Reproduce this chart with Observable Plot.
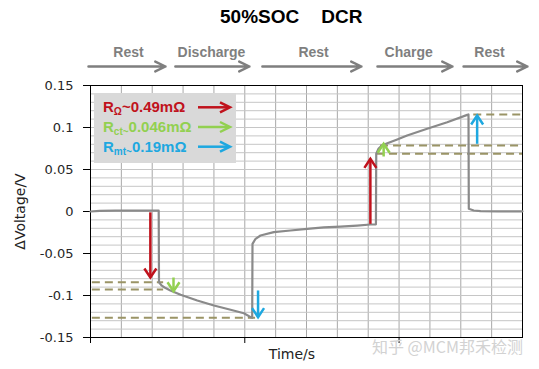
<!DOCTYPE html>
<html><head><meta charset="utf-8">
<script src="https://cdn.jsdelivr.net/npm/d3@7"></script>
<script src="https://cdn.jsdelivr.net/npm/@observablehq/plot@0.6"></script>
<style>
body{margin:0;background:#fff;}
#wrap{position:relative;width:539px;height:369px;overflow:hidden;font-family:"Liberation Sans",Arial,sans-serif;}
#chart{position:absolute;left:0;top:0;}
#title{position:absolute;left:220px;top:7px;font-weight:bold;font-size:19px;line-height:19px;color:#000;white-space:pre;}
#legend{position:absolute;left:94px;top:93px;width:142px;height:70px;background:#d9d9d9;}
.row{position:absolute;left:9px;font-weight:bold;font-size:15px;line-height:15px;white-space:pre;}
.sub{font-size:10px;position:relative;top:3px;}
#legend svg{position:absolute;left:0;top:0;}
#wm{position:absolute;left:372px;top:338px;font-family:"Noto Sans CJK SC",sans-serif;font-size:16px;line-height:16px;color:#d2d2d2;white-space:pre;}
</style></head>
<body><div id="wrap"><div id="chart"></div>
<div id="title">50%SOC<span style="margin-left:22px">DCR</span></div>
<div id="legend"></div>
<div id="wm">知乎 @MCM邦禾检测</div>
</div>
<script>
// Voltage curve
const timeS = [0, 0.3, 0.8, 2.21, 2.22, 2.30, 2.40, 2.59, 2.92, 3.46, 4.00, 4.54, 4.97, 5.19, 5.24, 5.25, 5.35, 5.51, 5.94, 6.48, 7.02, 7.56, 8.10, 8.64, 9.07, 9.25, 9.26, 9.33, 9.44, 9.62, 9.94, 10.26, 10.91, 11.56, 12.21, 12.25, 12.26, 12.42, 12.64, 13.2, 14];
const deltaV = [0, 0.0008, 0.001, 0.001, -0.0842, -0.0880, -0.0905, -0.0940, -0.0992, -0.1060, -0.1119, -0.1170, -0.1211, -0.1258, -0.1265, -0.0385, -0.0325, -0.0286, -0.0246, -0.0226, -0.0206, -0.0190, -0.0179, -0.0167, -0.0155, -0.0153, 0.0687, 0.0746, 0.0786, 0.0813, 0.0858, 0.0905, 0.0985, 0.1063, 0.1150, 0.1155, 0.0032, 0.0012, 0.0004, 0.0002, 0.0002];

// Dashed reference levels
const dashY  = [-0.0842, -0.0929, -0.1265, 0.1155, 0.0786, 0.0687];
const dashX1 = [0.06, 0.06, 0.06, 12.42, 9.40, 9.27];
const dashX2 = [2.37, 2.37, 5.35, 14, 14, 14];

// Resistance arrows
const arrowKind = ["ohm", "ct", "mt", "ohm", "ct", "mt"];
const arrowX  = [1.94, 2.69, 5.43, 9.07, 9.50, 12.53];
const arrowY1 = [-0.001, -0.0786, -0.094, -0.0147, 0.0655, 0.0806];
const arrowY2 = [-0.0786, -0.0949, -0.1258, 0.0627, 0.0806, 0.1143];

// Legend
const legendKinds = ["ohm", "ct", "mt"];
const legendSub = ["Ω", "ct", "mt"];
const legendValue = ["0.49mΩ", "0.046mΩ", "0.19mΩ"];
const kindColor = {ohm: "#c0121c", ct: "#92d050", mt: "#1ea8e0"};

// Phases
const phaseNames = ["Rest", "Discharge", "Rest", "Charge", "Rest"];
const phaseCenter = [1.23, 3.92, 7.23, 10.31, 12.93];
const phaseX1 = [-0.065, 2.75, 5.57, 9.30, 12.09];
const phaseX2 = [2.43, 5.15, 8.78, 11.73, 14.16];

// Axes
const yTicks = [-0.15, -0.1, -0.05, 0, 0.05, 0.1, 0.15];
const yTickLabels = ["-0.15", "-0.1", "-0.05", "0", "0.05", "0.1", "0.15"];
const xMajorTicks = [0, 5, 10];
const xGrid = d3.range(0, 15);
const yGrid = d3.range(-15, 16).map(i => i / 100);

const curve = timeS.map((t, i) => ({t, v: deltaV[i]}));
const dashes = dashY.map((y, i) => ({y, x1: dashX1[i], x2: dashX2[i]}));
const arrows = arrowX.map((x, i) => ({x, y1: arrowY1[i], y2: arrowY2[i], c: kindColor[arrowKind[i]]}));
const phases = phaseNames.map((n, i) => ({n, c: phaseCenter[i], x1: phaseX1[i], x2: phaseX2[i]}));

// open chevron arrowhead pointing up, tip at the origin
const chevron = {
  draw(context, size) {
    const r = Math.sqrt(size / Math.PI);
    context.moveTo(-0.6 * r, 0.9 * r);
    context.lineTo(0, 0);
    context.lineTo(0.6 * r, 0.9 * r);
  }
};

const plot = Plot.plot({
  width: 539, height: 369,
  marginLeft: 90, marginRight: 17, marginTop: 85, marginBottom: 32,
  x: {domain: [0, 14]},
  y: {domain: [-0.15, 0.15]},
  style: {fontFamily: "DejaVu Sans", background: "white"},
  marks: [
    Plot.gridX(xGrid, {stroke: "#a8a8a8", strokeOpacity: 1}),
    Plot.gridY(yGrid, {stroke: "#c6c6c6", strokeOpacity: 1}),
    Plot.frame({stroke: "#000"}),
    Plot.axisY(yTicks, {tickSize: 7, tickPadding: 10, tickFormat: d => yTickLabels[yTicks.indexOf(d)], label: null, fontSize: 13, fill: "#262626", stroke: "#000"}),
    Plot.axisX(xMajorTicks, {tickSize: 6, tickFormat: () => "", label: null, stroke: "#000"}),
    Plot.ruleY(dashes, {y: "y", x1: "x1", x2: "x2", stroke: "#9a9466", strokeWidth: 2, strokeDasharray: "8,5"}),
    Plot.line(curve, {x: "t", y: "v", stroke: "#8a8a8a", strokeWidth: 2.2}),
    Plot.link(arrows, {x1: "x", x2: "x", y1: "y1", y2: "y2", stroke: "c", strokeWidth: 2.5}),
    Plot.dot(arrows, {x: "x", y: "y2", symbol: chevron, r: 10, fill: "none", stroke: "c", strokeWidth: 2.5,
      rotate: d => (d.y2 > d.y1 ? 0 : 180)}),
    Plot.text(phases, {x: "c", text: "n", frameAnchor: "top", lineAnchor: "middle", dy: -32.5, fontSize: 14, fontWeight: "bold", fill: "#7f7f7f", fontFamily: "Liberation Sans"}),
    Plot.arrow(phases, {x1: "x1", x2: "x2", y1: 0.15, y2: 0.15, dy: -19, stroke: "#7f7f7f", strokeWidth: 2.5, headAngle: 52, headLength: 6.8}),
    Plot.text(["ΔVoltage/V"], {frameAnchor: "left", textAnchor: "middle", lineAnchor: "middle", rotate: -90, dx: -70, fontSize: 14, fill: "#222"}),
    Plot.text(["Time/s"], {frameAnchor: "bottom", textAnchor: "middle", lineAnchor: "middle", dy: 17, dx: -14.5, fontSize: 14, fill: "#222"})
  ]
});
document.getElementById("chart").appendChild(plot);

// Legend box
const lg = document.getElementById("legend");
let svg = '<svg width="142" height="70">';
legendKinds.forEach((k, i) => {
  const row = document.createElement("div");
  row.className = "row";
  row.style.top = (6 + 20 * i) + "px";
  row.style.color = kindColor[k];
  row.innerHTML = 'R<span class="sub">' + legendSub[i] + '</span>' + (i === 0 ? '~' : '<span class="sub">~</span>') + legendValue[i];
  lg.appendChild(row);
  const y = 14.3 + 19.7 * i;
  svg += `<path d="M104,${y} H135" stroke="${kindColor[k]}" stroke-width="2.5" fill="none"/>`;
  svg += `<path d="M126,${y - 5} L136,${y} L126,${y + 5}" stroke="${kindColor[k]}" stroke-width="2.5" fill="none"/>`;
});
svg += '</svg>';
lg.insertAdjacentHTML("beforeend", svg);
</script>
</body></html>
